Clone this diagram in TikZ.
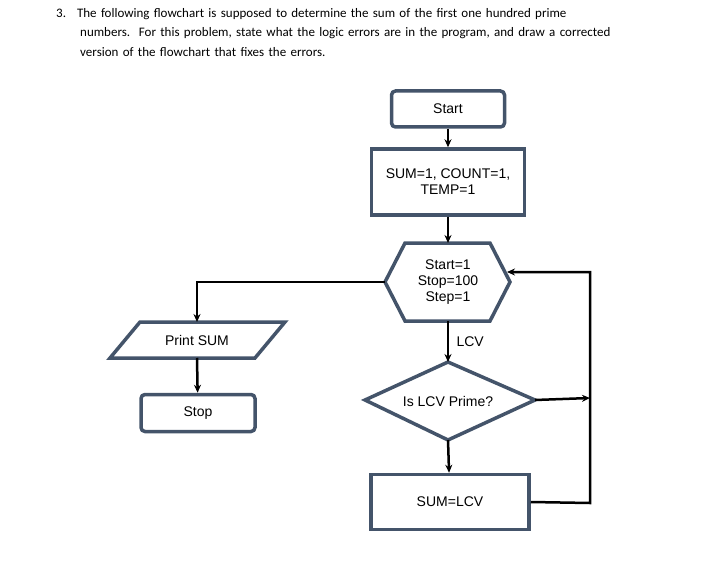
\documentclass[tikz,border=0pt]{standalone}
\usepackage{fontspec}
\setmainfont{Liberation Sans}
\newfontfamily\carlitofont{Carlito}
\usetikzlibrary{arrows.meta}
\definecolor{bd}{HTML}{44546A}
\begin{document}
\begin{tikzpicture}[x=1pt,y=-1pt,
 tx/.style={font=\fontsize{14}{16}\selectfont,align=center},
 sh/.style={draw=bd,line width=3.5pt,fill=white,tx},
 ar/.style={line width=2.5pt,-{Stealth[length=8pt,width=7pt]}}]
\useasboundingbox (0,0) rectangle (719,577);
\node[anchor=north west,font=\carlitofont\fontsize{13}{19.5}\selectfont,align=left,text width=660pt,inner sep=0] (hd) at (56,8)
 {3.\hspace{11pt}The following flowchart is supposed to determine the sum of the first one hundred prime\\
 \hspace{24pt}numbers.\ \ For this problem, state what the logic errors are in the program, and draw a corrected\\
 \hspace{24pt}version of the flowchart that fixes the errors.};
\node[sh,rounded corners=4pt,minimum width=113pt,minimum height=36pt] (start) at (448,109) {Start};
\node[sh,minimum width=153pt,minimum height=66pt] (init) at (448,182) {SUM=1, COUNT=1,\\TEMP=1};
\draw[draw=bd,line width=3.5pt,fill=white] (385,282)--(405,243)--(490,243)--(510,282)--(490,321)--(405,321)--cycle;
\node[tx] (hex) at (448,282) {Start=1\\Stop=100\\Step=1};
\coordinate (hexL) at (385,282); \coordinate (hexB) at (448,321); \coordinate (hexR) at (507,272);
\draw[draw=bd,line width=3.5pt,fill=white] (365,400)--(448,362)--(535,400)--(448,440)--cycle;
\node[tx] (dia) at (448,401) {Is LCV Prime?};
\coordinate (diaT) at (448,362); \coordinate (diaR) at (535,400); \coordinate (diaB) at (448,440);
\node[sh,minimum width=158pt,minimum height=55pt] (sum) at (450,502) {SUM=LCV};
\draw[draw=bd,line width=3.5pt,fill=white] (140,322)--(285,322)--(255,358)--(110,358)--cycle;
\node[tx] (pr) at (197,340) {Print SUM};
\coordinate (prT) at (197,322); \coordinate (prB) at (197,358);
\node[sh,rounded corners=4pt,minimum width=114pt,minimum height=37pt] (stop) at (198,413) {Stop};
\coordinate (c1) at (590,272); \coordinate (c2) at (590,503); \coordinate (c3) at (590,398);
\draw[ar] (start) -- (init);
\draw[ar] (init) -- (448,243);
\draw[ar] (hexB) -- node[right,tx,xshift=4pt]{LCV} (diaT);
\draw[ar] (diaB) -- (sum);
\draw[ar] (hexL) -| (prT);
\draw[ar] (prB) -- (stop);
\draw[ar] (diaR) -- (c3);
\draw[ar] (sum.east) -- (c2) -- (c1) -- (hexR);
\end{tikzpicture}
\end{document}
